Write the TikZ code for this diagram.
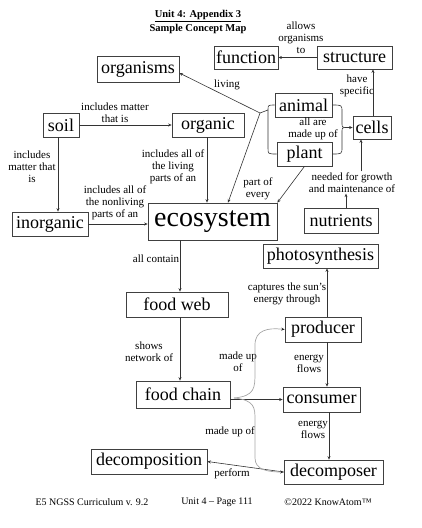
\documentclass[tikz,border=0pt]{standalone}
\usepackage{fontspec}
\setmainfont{Liberation Serif}
\usetikzlibrary{arrows.meta}
\begin{document}
\begin{tikzpicture}[x=1pt,y=-1pt,
  box/.style={draw=black!75,line width=0.7pt,inner sep=0pt,font=\fontsize{18}{20}\selectfont},
  lbl/.style={align=center,inner sep=1pt,font=\fontsize{11}{12}\selectfont},
  foot/.style={inner sep=0pt,font=\fontsize{10}{12}\selectfont},
  arr/.style={draw=black!80,line width=0.6pt,-{Stealth[length=3.5pt,width=3pt]}},
  ln/.style={draw=black!80,line width=0.6pt},
  grayarr/.style={draw=black!35,line width=0.7pt,-{Stealth[length=3.5pt,width=3pt,color=black!85]}}]
\useasboundingbox (0,0) rectangle (421,528);
% title
\node[inner sep=0pt,font=\bfseries\fontsize{10.5}{12}\selectfont] (t1) at (198,16) {\underline{Unit 4: Appendix 3}};
\node[inner sep=0pt,font=\bfseries\fontsize{10.5}{12}\selectfont] (t2) at (198,28.5) {Sample Concept Map};
% boxes
\node[box,minimum width=64pt,minimum height=23pt] (function) at (246,57.5) {function};
\node[box,minimum width=75pt,minimum height=23pt] (structure) at (354.5,57.5) {structure};
\node[box,minimum width=82pt,minimum height=26pt] (organisms) at (138,69) {organisms};
\node[box,minimum width=36pt,minimum height=24pt] (soil) at (61,125) {soil};
\node[box,minimum width=72pt,minimum height=24pt] (organic) at (208,125) {organic};
\node[box,minimum width=57pt,minimum height=24pt] (animal) at (303.5,105) {animal};
\node[box,minimum width=55pt,minimum height=24pt] (plant) at (304.5,154) {plant};
\node[box,minimum width=38pt,minimum height=23pt] (cells) at (372,127.5) {cells};
\node[box,minimum width=76pt,minimum height=24pt] (inorganic) at (50,224) {inorganic};
\node[box,minimum width=129pt,minimum height=37pt,font=\fontsize{28}{32}\selectfont] (ecosystem) at (212.5,221.5) {ecosystem};
\node[box,minimum width=74pt,minimum height=25pt] (nutrients) at (341,220.5) {nutrients};
\node[box,minimum width=115pt,minimum height=24pt] (photo) at (320.5,256) {photosynthesis};
\node[box,minimum width=102pt,minimum height=25pt] (foodweb) at (177,304.5) {food web};
\node[box,minimum width=76pt,minimum height=25pt] (producer) at (323,329.5) {producer};
\node[box,minimum width=94pt,minimum height=27pt] (foodchain) at (183,394.5) {food chain};
\node[box,minimum width=77pt,minimum height=25pt] (consumer) at (321.5,399.5) {consumer};
\node[box,minimum width=116pt,minimum height=25pt] (decomposition) at (149,461.5) {decomposition};
\node[box,minimum width=99pt,minimum height=24pt] (decomposer) at (333.5,472) {decomposer};
% labels
\node[lbl] (l1) at (301,37.5) {allows\\organisms\\to};
\node[lbl] (l2) at (227,85) {living};
\node[lbl] (l3) at (115,113) {includes matter\\that is};
\node[lbl] (l4) at (357,86) {have\\specific};
\node[lbl] (l5) at (313,128.5) {all are\\made up of};
\node[lbl] (l6) at (32,166.5) {includes\\matter that\\is};
\node[lbl] (l7) at (173,167) {includes all of\\the living\\parts of an};
\node[lbl] (l8) at (115,202.5) {includes all of\\the nonliving\\parts of an};
\node[lbl] (l9) at (258,189) {part of\\every};
\node[lbl] (needlbl) at (352,182.5) {needed for growth\\and maintenance of};
\node[lbl] (l11) at (156,259) {all contain};
\node[lbl] (l12) at (287,293.5) {captures the sun’s\\energy through};
\node[lbl] (l13) at (149,352) {shows\\network of};
\node[lbl] (l14) at (238,361.5) {made up\\of};
\node[lbl] (l15) at (309,363.5) {energy\\flows};
\node[lbl] (l16) at (230,432) {made up of};
\node[lbl] (l17) at (313,430) {energy\\flows};
\node[lbl] (l18) at (232,474) {perform};
% footer
\node[foot] (f1) at (92,502) {E5 NGSS Curriculum v. 9.2};
\node[foot] (f2) at (217,502) {Unit 4 – Page 111};
\node[foot] (f3) at (328,502) {©2022 KnowAtom™};
% braces
\coordinate (tip) at (260,113);
\coordinate (rtip) at (347,127.5);
\draw[ln] (animal.west) .. controls (268,105) .. (268,110) -- (268,148) .. controls (268,154) .. (plant.west);
\draw[ln] (268,110) -- (tip);
\draw[ln] (animal.east) .. controls (342,105) .. (342,112) -- (342,123) .. controls (342,127.5) .. (rtip);
\draw[ln] (plant.east) .. controls (342,154) .. (342,147) -- (342,132) .. controls (342,127.5) .. (rtip);
\draw[arr] (rtip) -- (cells.west);
% connectors
\draw[arr] (structure.west) -- (function.east);
\draw[arr] ([xshift=1pt]cells.north) -- ([xshift=1pt]cells.north |- structure.south);
\draw[arr] (tip) -- ([yshift=-4pt]organisms.east);
\draw[arr] (tip) -- ([xshift=15.5pt]ecosystem.north);
\draw[arr] (soil) -- (organic);
\draw[arr] ([xshift=-3pt]soil.south) -- ([xshift=-3pt]soil.south |- inorganic.north);
\draw[arr] ([xshift=-1pt]organic.south) -- ([xshift=-1pt]organic.south |- ecosystem.north);
\draw[arr] (inorganic.east) -- (inorganic.east -| ecosystem.west);
\draw[arr] (plant.south) -- (ecosystem.north east);
\draw[arr] ([xshift=5pt]nutrients.north) -- ([xshift=5pt]nutrients.north |- needlbl.south);
\draw[arr] ([xshift=-11pt]cells.south |- needlbl.north) -- ([xshift=-11pt]cells.south);
\draw[arr] ([xshift=3pt]foodweb.north |- ecosystem.south) -- ([xshift=3pt]foodweb.north);
\draw[arr] ([xshift=3pt]foodweb.south) -- ([xshift=3pt]foodweb.south |- foodchain.north);
\draw[arr] ([xshift=4pt]producer.north) -- ([xshift=4pt]producer.north |- photo.south);
\draw[arr] ([xshift=4pt]producer.south) -- ([xshift=4pt]producer.south |- consumer.north);
\draw[arr] ([xshift=7.5pt]consumer.south) -- ([xshift=7.5pt]consumer.south |- decomposer.north);
\draw[arr] (consumer.west -| foodchain.east) -- (consumer.west);
\draw[arr] (decomposer.west) -- (decomposition.east);
\coordinate (split) at (234,398);
\draw[grayarr] (split) .. controls (255,396) and (255,388) .. (255,372) -- (255,345) .. controls (255,330) and (268,327.5) .. (producer.west);
\draw[grayarr] (split) .. controls (255,400) and (255,408) .. (255,420) -- (255,458) .. controls (255,470) and (268,472) .. (decomposer.west);
\end{tikzpicture}
\end{document}
